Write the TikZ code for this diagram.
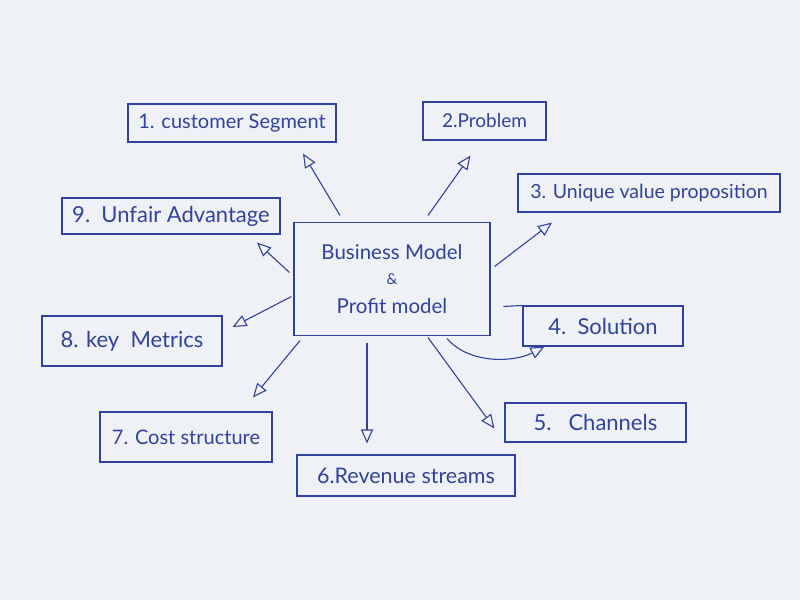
\documentclass[tikz,border=0pt]{standalone}
\usepackage{fontspec}
\setmainfont{Lato}
\usetikzlibrary{arrows.meta,calc}
\definecolor{ink}{HTML}{32429A}
\definecolor{paper}{HTML}{EEF1F6}
\tikzset{
  box/.style={draw=ink, line width=1.1pt, text=ink, inner sep=2pt,
    font=\fontsize{20}{22}\selectfont},
  arr/.style={draw=ink, line width=1.1pt,
    -{Triangle[open, length=14pt, width=12pt, line width=1.1pt]}}
}
\begin{document}
\begin{tikzpicture}[x=1pt,y=-1pt]
\fill[paper] (0,0) rectangle (800,600);
\useasboundingbox (0,0) rectangle (800,600);
% center
\node[box, minimum width=196pt, minimum height=113pt, align=center,
  font=\fontsize{20.5}{26}\selectfont] (c) at (392,279)
  {Business Model\\[-1pt]{\fontsize{15}{16}\selectfont \&}\\[3pt]Profit model};
% boxes
\node[box, minimum width=208pt, minimum height=38pt] (n1) at (232,123) {1. customer Segment};
\node[box, minimum width=123pt, minimum height=38pt, font=\fontsize{19}{22}\selectfont] (n2) at (484.5,121) {2.Problem};
\node[box, minimum width=262pt, minimum height=38pt, font=\fontsize{19.5}{22}\selectfont] (n3) at (649,193) {3. Unique value proposition};
\node[box, minimum width=218pt, minimum height=36pt, font=\fontsize{22}{24}\selectfont] (n9) at (171,216) {9.\ \ Unfair Advantage};
\node[box, minimum width=160pt, minimum height=40pt, font=\fontsize{22}{24}\selectfont] (n4) at (603,326) {4.\ \ Solution};
\node[box, minimum width=181pt, minimum height=39pt, font=\fontsize{22}{24}\selectfont] (n5) at (595.5,422.5) {5.\ \ \ Channels};
\node[box, minimum width=218pt, minimum height=41pt, font=\fontsize{21.5}{24}\selectfont] (n6) at (406,475.5) {6.Revenue streams};
\node[box, minimum width=172pt, minimum height=50pt] (n7) at (186,437) {7. Cost structure};
\node[box, minimum width=180pt, minimum height=50pt, font=\fontsize{22}{24}\selectfont] (n8) at (132,341) {8. key\ \ Metrics};
% overshoot of box 4 top edge
\draw[draw=ink, line width=1.1pt] ($(n4.north west)+(-19,1)$) -- (n4.north west);
% connectors
\draw[arr] ($(c.north)+(-52,-6.5)$) -- ($(n1.south)+(71,11)$);
\draw[arr] ($(c.north)+(36,-6.5)$) -- ($(n2.south)+(-14,15)$);
\draw[arr] ($(c.east)+(4,-12.5)$) -- ($(n3.south)+(-97,10)$);
\draw[arr] ($(c.west)+(-4,-6.5)$) -- ($(n9.south)+(86,8)$);
\draw[arr] ($(c.west)+(-2,17.5)$) -- ($(n8.east)+(10,-14)$);
\draw[arr] ($(c.south)+(-92,4.5)$) -- ($(n7.north)+(67,-14)$);
\draw[arr] ($(c.south)+(-25,6.5)$) -- ($(n6.north)+(-39,-11)$);
\draw[arr] ($(c.south)+(36,1.5)$) -- ($(n5.west)+(-10,6)$);
\draw[arr] ($(c.south)+(55,2.5)$) .. controls (470,365) and (515,362) .. ($(n4.south west)+(22,0)$);
\end{tikzpicture}
\end{document}
